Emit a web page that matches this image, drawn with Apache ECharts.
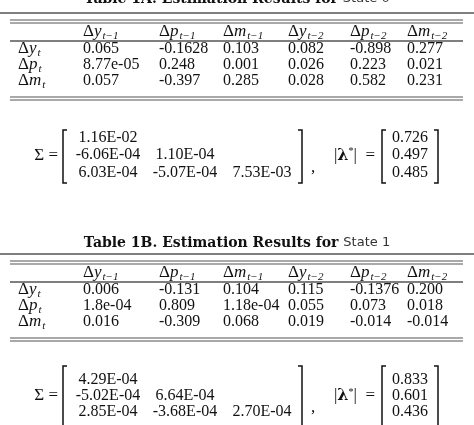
<!DOCTYPE html>
<html><head><meta charset="utf-8">
<script src="https://cdn.jsdelivr.net/npm/echarts@6/dist/echarts.min.js"></script>
<style>html,body{margin:0;padding:0;background:#fff}#c{width:474px;height:425px}</style>
</head><body><div id="c"></div>
<script>
const colHeads = [['y','t−1'],['p','t−1'],['m','t−1'],['y','t−2'],['p','t−2'],['m','t−2']];
const rowHeads = [['y','t'],['p','t'],['m','t']];
const tableA = [
  ['0.065','-0.1628','0.103','0.082','-0.898','0.277'],
  ['8.77e-05','0.248','0.001','0.026','0.223','0.021'],
  ['0.057','-0.397','0.285','0.028','0.582','0.231']];
const tableB = [
  ['0.006','-0.131','0.104','0.115','-0.1376','0.200'],
  ['1.8e-04','0.809','1.18e-04','0.055','0.073','0.018'],
  ['0.016','-0.309','0.068','0.019','-0.014','-0.014']];
const sigmaA = [['1.16E-02'],['-6.06E-04','1.10E-04'],['6.03E-04','-5.07E-04','7.53E-03']];
const sigmaB = [['4.29E-04'],['-5.02E-04','6.64E-04'],['2.85E-04','-3.68E-04','2.70E-04']];
const lambdaA = ['0.726','0.497','0.485'];
const lambdaB = ['0.833','0.601','0.436'];
const titles = [['Table 1A. Estimation Results for ','State 0'],['Table 1B. Estimation Results for ','State 1']];

const F = '"DejaVu Serif","Liberation Serif",serif';
const LF = '"Liberation Serif","DejaVu Serif",serif';
const rich = {
  d:{fontFamily:LF,fontSize:17,fill:'#111'},
  i:{fontFamily:LF,fontSize:17,fontStyle:'italic',fill:'#111'},
  s:{fontFamily:LF,fontSize:11,fontStyle:'italic',fill:'#111',padding:[8,0,0,1]}
};
const g = [];
function txt(x,y,text,opt){g.push(Object.assign({type:'text',x:x,y:y,style:Object.assign({text:text,fontFamily:LF,fontSize:16,fill:'#111',verticalAlign:'middle',align:'left'},opt||{})}));}
function rtxt(x,y,parts){g.push({type:'text',x:x,y:y,style:{text:'{d|Δ}{i|'+parts[0]+'}{s|'+parts[1]+'}',rich:rich,verticalAlign:'middle',align:'left'}});}
function hline(y,x1,x2,w){g.push({type:'line',shape:{x1:x1,y1:y,x2:x2,y2:y},style:{stroke:'#555',lineWidth:w||1}});}
function bracket(x,y1,y2,dir){g.push({type:'polyline',shape:{points:[[x+4*dir,y1],[x,y1],[x,y2],[x+4*dir,y2]]},style:{stroke:'#111',lineWidth:1.5,fill:null}});}
const cols=[83,159,223,288,350,407];
function table(t,y0,ty,data){
  g.push({type:'text',x:237,y:ty,style:{text:'{b|'+titles[t][0]+'}{n|'+titles[t][1]+'}',rich:{b:{fontFamily:F,fontSize:14,fontWeight:'bold',fill:'#111'},n:{fontFamily:'"DejaVu Sans",sans-serif',fontSize:13,fill:'#333'}},align:'center',verticalAlign:'middle'}});
  hline(y0+11,0,474,1.5);
  hline(y0+18,10,463,1.2); hline(y0+21,10,463,1.2);
  colHeads.forEach((h,j)=>rtxt(cols[j],y0+30,h));
  hline(y0+39,10,463,1.5);
  data.forEach((r,i)=>{
    const y=y0+47+i*16;
    rtxt(18,y,rowHeads[i]);
    r.forEach((v,j)=>txt(cols[j],y,v));
  });
  hline(y0+95,10,463,1.2); hline(y0+98,10,463,1.2);
}
function matrix(yr,sig,lam,top,bot){
  txt(58,(yr[0]+yr[2])/2,'Σ =',{align:'right',fontSize:17});
  bracket(63,top,bot,1); bracket(302,top,bot,-1);
  const mc=[108,185,262];
  sig.forEach((r,i)=>r.forEach((v,j)=>txt(mc[j],yr[i],v,{align:'center'})));
  txt(311,(yr[1]+yr[2])/2+4,',',{fontSize:17});
  g.push({type:'text',x:375,y:(yr[0]+yr[2])/2,style:{text:'|{b|λ}{sp|*}|  =',rich:{b:{fontFamily:F,fontSize:16,fontWeight:'bold',fill:'#111'},sp:{fontFamily:LF,fontSize:10,fill:'#111',padding:[0,0,8,0]}},fontFamily:LF,fontSize:17,fill:'#111',align:'right',verticalAlign:'middle'}});
  bracket(382,top,bot,1); bracket(438,top,bot,-1);
  lam.forEach((v,i)=>txt(410,yr[i],v,{align:'center'}));
}
table(0,2,-1,tableA); matrix([138,155,173],sigmaA,lambdaA,130,183);
table(1,243,243,tableB); matrix([380,396,412],sigmaB,lambdaB,366,430);
const chart=echarts.init(document.getElementById('c'));
chart.setOption({animation:false,graphic:{elements:g}});
</script></body></html>
